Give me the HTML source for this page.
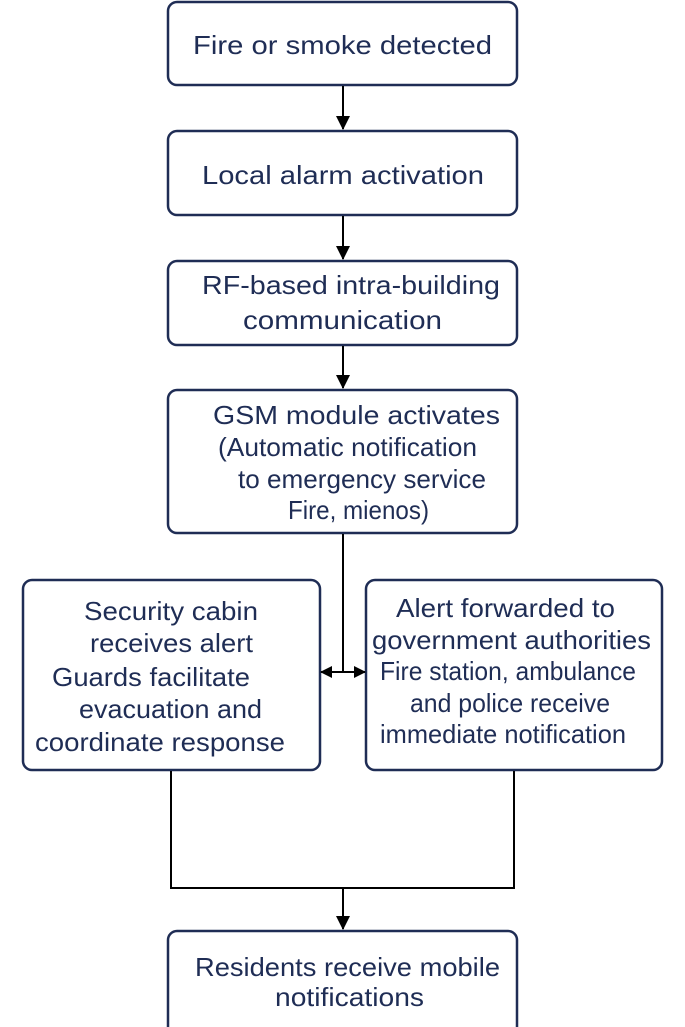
<!DOCTYPE html>
<html><head><meta charset="utf-8"><style>
html,body{margin:0;padding:0;background:#fff;}
svg{display:block;}
text{font-family:"Liberation Sans",sans-serif;font-size:26px;fill:#1f2d55;}
</style></head><body>
<svg width="685" height="1027" viewBox="0 0 685 1027" xmlns="http://www.w3.org/2000/svg">
<defs>
<marker id="ah" markerWidth="12" markerHeight="12" refX="11" refY="6" orient="auto" markerUnits="userSpaceOnUse">
<path d="M0,0 L12,6 L0,12 z" fill="#000"/></marker>
<marker id="ah2" markerWidth="14" markerHeight="14" refX="13" refY="7" orient="auto" markerUnits="userSpaceOnUse">
<path d="M0,0 L14,7 L0,14 z" fill="#000"/></marker>
</defs>
<g fill="none" stroke="#1f2d55" stroke-width="2.5">
<rect x="168" y="2" width="349" height="83" rx="9"/>
<rect x="168" y="131" width="349" height="84" rx="9"/>
<rect x="168" y="261" width="349" height="84" rx="9"/>
<rect x="168" y="390" width="349" height="143" rx="9"/>
<rect x="23" y="580" width="297" height="190" rx="9"/>
<rect x="366" y="580" width="296" height="190" rx="9"/>
<rect x="168" y="931" width="349" height="110" rx="9"/>
</g>
<g stroke="#000" stroke-width="2" fill="none">
<line x1="343" y1="86" x2="343" y2="129" marker-end="url(#ah2)"/>
<line x1="343" y1="216" x2="343" y2="259" marker-end="url(#ah2)"/>
<line x1="343" y1="346" x2="343" y2="388" marker-end="url(#ah2)"/>
<line x1="343" y1="534" x2="343" y2="672"/>
<line x1="343" y1="672" x2="321" y2="672" marker-end="url(#ah)"/>
<line x1="343" y1="672" x2="365" y2="672" marker-end="url(#ah)"/>
<polyline points="171,771 171,888 514,888 514,771"/>
<line x1="343" y1="888" x2="343" y2="929" marker-end="url(#ah2)"/>
</g>
<text x="193" y="54" textLength="299" lengthAdjust="spacingAndGlyphs">Fire or smoke detected</text>
<text x="202" y="184" textLength="282" lengthAdjust="spacingAndGlyphs">Local alarm activation</text>
<text x="202" y="294" textLength="298" lengthAdjust="spacingAndGlyphs">RF-based intra-building</text>
<text x="243" y="329" textLength="199" lengthAdjust="spacingAndGlyphs">communication</text>
<text x="213" y="424" textLength="287" lengthAdjust="spacingAndGlyphs">GSM module activates</text>
<text x="218" y="456" textLength="259" lengthAdjust="spacingAndGlyphs">(Automatic notification</text>
<text x="238" y="488" textLength="248" lengthAdjust="spacingAndGlyphs">to emergency service</text>
<text x="288" y="519" textLength="141" lengthAdjust="spacingAndGlyphs">Fire, mienos)</text>
<text x="84" y="620" textLength="174" lengthAdjust="spacingAndGlyphs">Security cabin</text>
<text x="90" y="652" textLength="163" lengthAdjust="spacingAndGlyphs">receives alert</text>
<text x="52" y="686" textLength="198" lengthAdjust="spacingAndGlyphs">Guards facilitate</text>
<text x="79" y="718" textLength="183" lengthAdjust="spacingAndGlyphs">evacuation and</text>
<text x="35" y="751" textLength="250" lengthAdjust="spacingAndGlyphs">coordinate response</text>
<text x="396" y="617" textLength="219" lengthAdjust="spacingAndGlyphs">Alert forwarded to</text>
<text x="372" y="649" textLength="279" lengthAdjust="spacingAndGlyphs">government authorities</text>
<text x="380" y="680" textLength="256" lengthAdjust="spacingAndGlyphs">Fire station, ambulance</text>
<text x="410" y="712" textLength="200" lengthAdjust="spacingAndGlyphs">and police receive</text>
<text x="380" y="743" textLength="246" lengthAdjust="spacingAndGlyphs">immediate notification</text>
<text x="195" y="976" textLength="305" lengthAdjust="spacingAndGlyphs">Residents receive mobile</text>
<text x="275" y="1006" textLength="149" lengthAdjust="spacingAndGlyphs">notifications</text>
</svg>
</body></html>
